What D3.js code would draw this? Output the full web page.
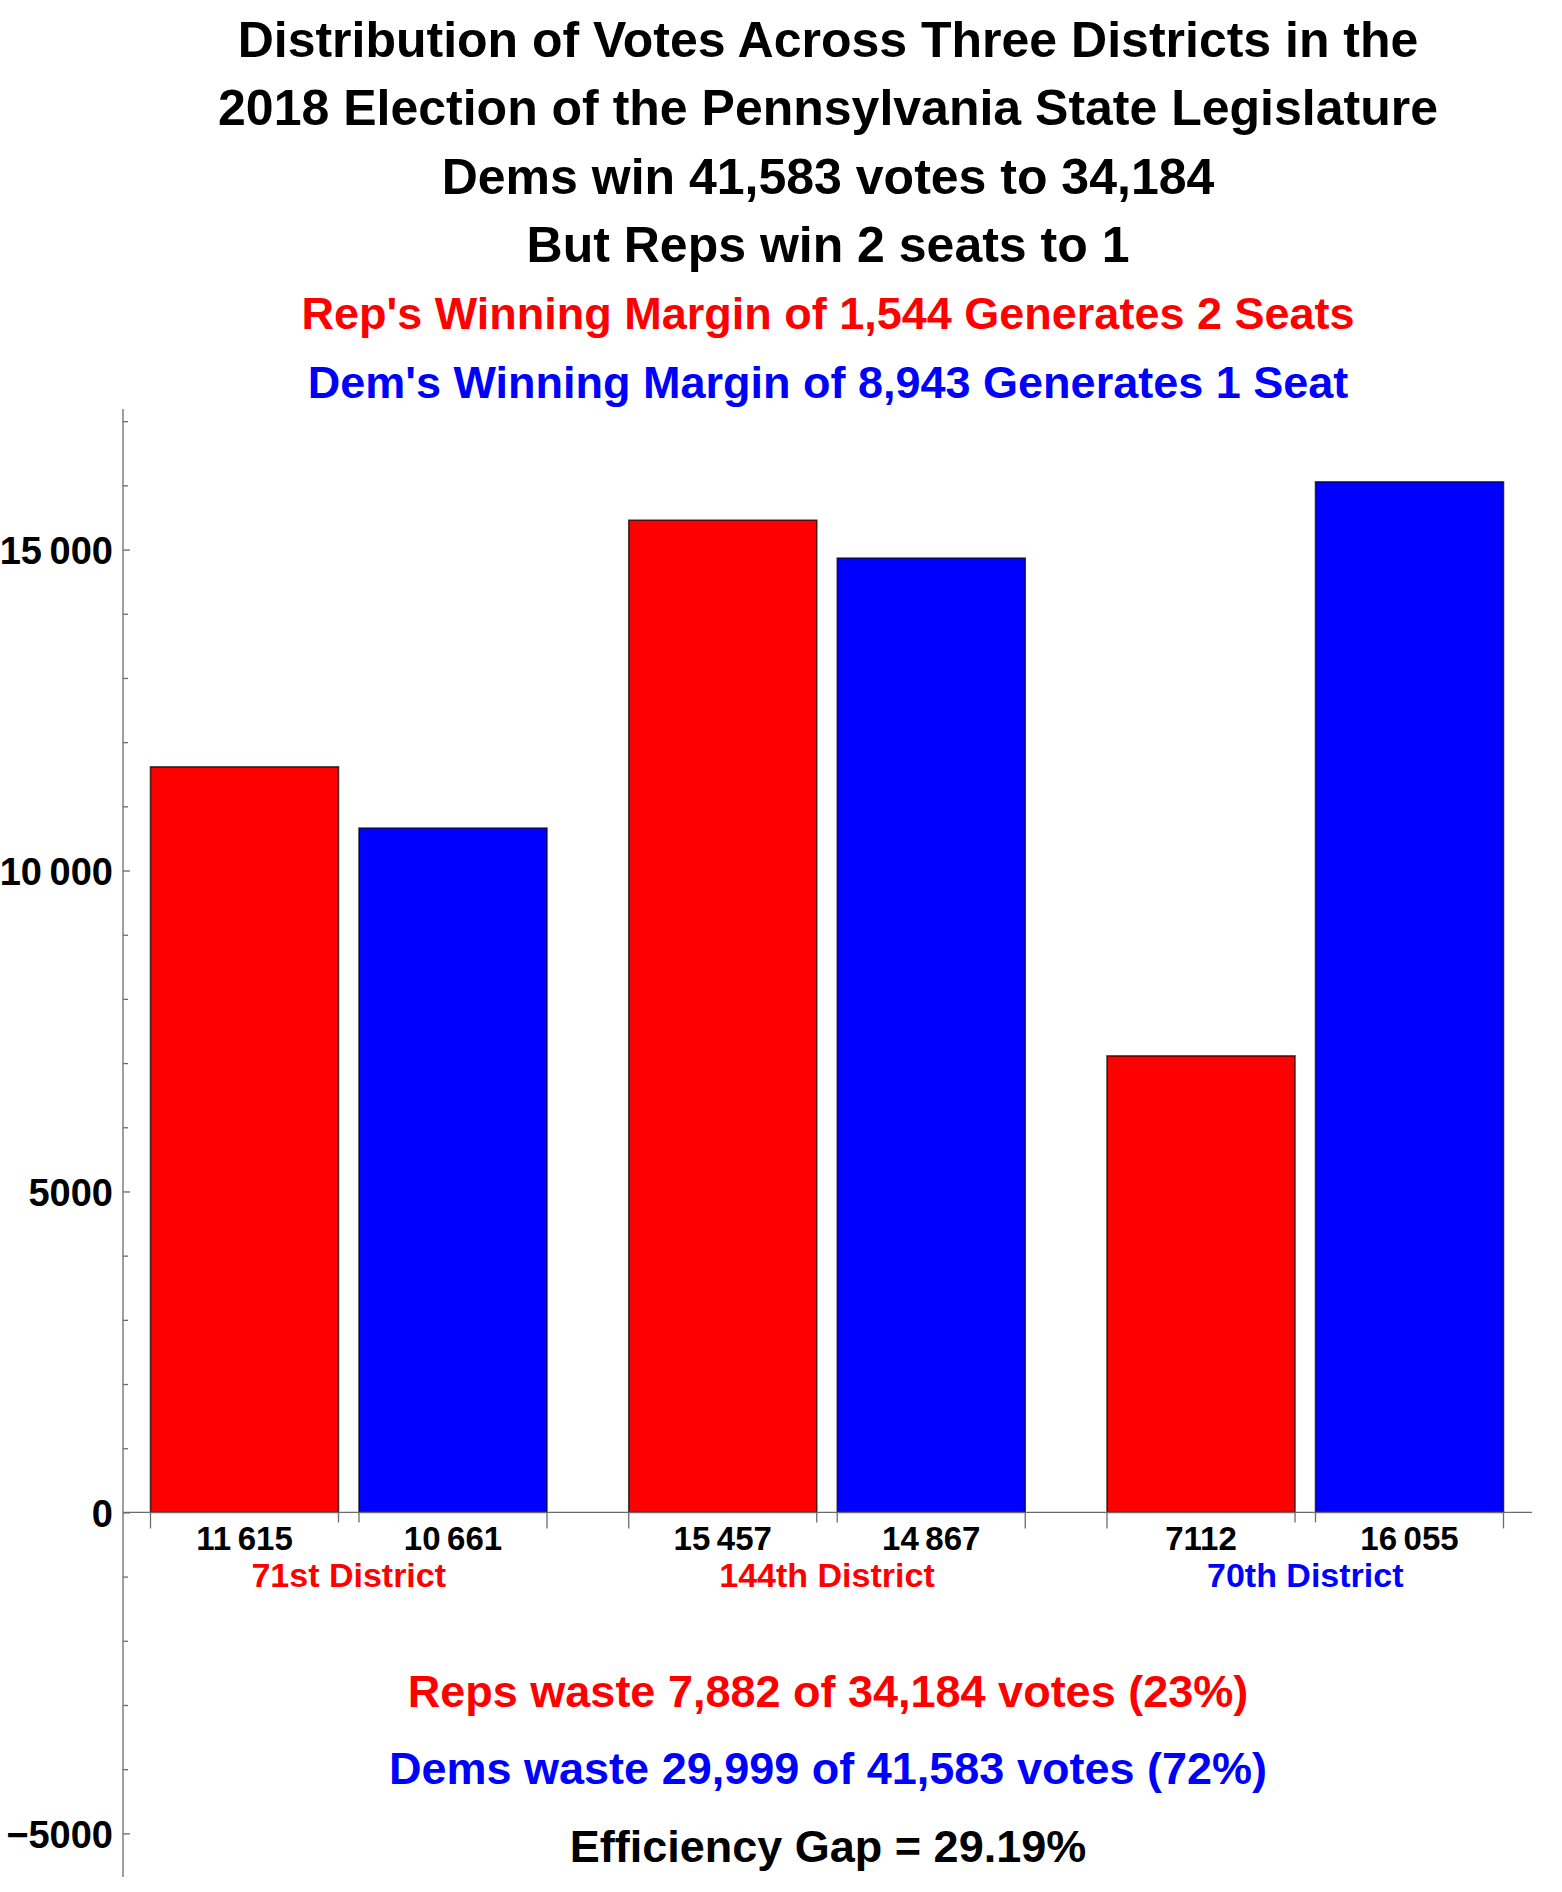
<!DOCTYPE html>
<html>
<head>
<meta charset="utf-8">
<script src="https://cdn.jsdelivr.net/npm/d3@7"></script>
<style>
  html, body { margin: 0; padding: 0; background: #fff; }
  svg { display: block; }
  text { font-family: "Liberation Sans", Arial, Helvetica, sans-serif; font-weight: bold; }
</style>
</head>
<body>
<svg id="chart" width="1562" height="1892"></svg>
<script>
// ---------- data ----------
const districts = ["71st District", "144th District", "70th District"];
const parties = ["Rep", "Dem"];
const repVotes = [11615, 15457, 7112];
const demVotes = [10661, 14867, 16055];
const winners = ["Rep", "Rep", "Dem"];
const yMajorTicks = [-5000, 0, 5000, 10000, 15000];
const yTickLabels = ["\u22125000", "0", "5000", "10\u2009000", "15\u2009000"];
const yMinorTicks = [-4000, -3000, -2000, -1000, 1000, 2000, 3000, 4000, 6000, 7000, 8000, 9000,
                     11000, 12000, 13000, 14000, 16000, 17000];
const titleLines = [
  "Distribution of Votes Across Three Districts in the",
  "2018 Election of the Pennsylvania State Legislature",
  "Dems win 41,583 votes to 34,184",
  "But Reps win 2 seats to 1"
];
const marginLines = [
  {party: "Rep", text: "Rep's Winning Margin of 1,544 Generates 2 Seats"},
  {party: "Dem", text: "Dem's Winning Margin of 8,943 Generates 1 Seat"}
];
const footerLines = [
  {party: "Rep", text: "Reps waste 7,882 of 34,184 votes (23%)"},
  {party: "Dem", text: "Dems waste 29,999 of 41,583 votes (72%)"},
  {party: "None", text: "Efficiency Gap = 29.19%"}
];

// ---------- styling ----------
const partyColor = {Rep: "#ff0000", Dem: "#0000ff", None: "#000000"};
const axisColor = "#6b6b6b";
const W = 1562, H = 1892;
const cx = 828;

const svg = d3.select("#chart");

const rows = districts.map((d, i) => ({
  district: d, winner: winners[i],
  values: [{party: "Rep", v: repVotes[i]}, {party: "Dem", v: demVotes[i]}]
}));

// ---------- scales ----------
const yMin = -5680, yMax = 17190;
const y = d3.scaleLinear().domain([yMin, yMax]).range([1877, 409]);

const x0 = d3.scaleBand().domain(districts).range([150.5, 1503.5])
  .paddingInner(0.171).paddingOuter(0);
const x1 = d3.scaleBand().domain(parties).range([0, x0.bandwidth()])
  .paddingInner(0.0983).paddingOuter(0);

const axisX = 123;

// ---------- y axis ----------
const gy = svg.append("g").attr("transform", `translate(${axisX},0)`);
gy.append("line").attr("x1", 0).attr("x2", 0)
  .attr("y1", y(yMax)).attr("y2", y(yMin))
  .attr("stroke", axisColor).attr("stroke-width", 1.3);

const yAxisMajor = d3.axisLeft(y).tickValues(yMajorTicks)
  .tickFormat((d, i) => yTickLabels[i])
  .tickSizeInner(-7).tickSizeOuter(0).tickPadding(10);
const gMajor = gy.append("g").call(yAxisMajor);
gMajor.select(".domain").remove();
gMajor.selectAll(".tick line").attr("stroke", axisColor).attr("stroke-width", 1.3);
gMajor.selectAll(".tick text")
  .attr("fill", "#000").attr("font-size", 38).attr("font-weight", "bold")
  .attr("font-family", '"Liberation Sans", Arial, sans-serif')
  .attr("dy", "0.36em");

const yAxisMinor = d3.axisLeft(y).tickValues(yMinorTicks).tickFormat("")
  .tickSizeInner(-5).tickSizeOuter(0);
const gMinor = gy.append("g").call(yAxisMinor);
gMinor.select(".domain").remove();
gMinor.selectAll(".tick line").attr("stroke", axisColor).attr("stroke-width", 1.3);

// ---------- bars ----------
const groups = svg.append("g").selectAll("g.grp").data(rows).join("g")
  .attr("class", "grp")
  .attr("transform", d => `translate(${x0(d.district)},0)`);

groups.selectAll("rect").data(d => d.values).join("rect")
  .attr("x", d => x1(d.party))
  .attr("width", x1.bandwidth())
  .attr("y", d => y(d.v))
  .attr("height", d => y(0) - y(d.v))
  .attr("fill", d => partyColor[d.party])
  .attr("stroke", "#000").attr("stroke-opacity", 0.7).attr("stroke-width", 1.6);

// ---------- x axis ----------
svg.append("line")
  .attr("x1", axisX).attr("x2", 1532)
  .attr("y1", y(0)).attr("y2", y(0))
  .attr("stroke", axisColor).attr("stroke-width", 1.3);

// ticks at bar edges (long at outer group edges, short at inner edges)
groups.each(function(d) {
  const g = d3.select(this);
  const edges = [
    {x: x1("Rep"), len: 16},
    {x: x1("Rep") + x1.bandwidth(), len: 10},
    {x: x1("Dem"), len: 10},
    {x: x1("Dem") + x1.bandwidth(), len: 16}
  ];
  g.selectAll("line.xt").data(edges).join("line").attr("class", "xt")
    .attr("x1", e => e.x).attr("x2", e => e.x)
    .attr("y1", y(0)).attr("y2", e => y(0) + e.len)
    .attr("stroke", axisColor).attr("stroke-width", 1.3);
});

const fmtVotes = v => v >= 10000
  ? Math.floor(v / 1000) + "\u2009" + String(v % 1000).padStart(3, "0")
  : String(v);

groups.selectAll("text.val").data(d => d.values).join("text").attr("class", "val")
  .attr("x", d => x1(d.party) + x1.bandwidth() / 2)
  .attr("y", y(0) + 38)
  .attr("text-anchor", "middle")
  .attr("font-size", 33)
  .attr("fill", "#000")
  .text(d => fmtVotes(d.v));

groups.append("text").attr("class", "dist")
  .attr("x", x0.bandwidth() / 2)
  .attr("y", y(0) + 75)
  .attr("text-anchor", "middle")
  .attr("font-size", 34)
  .attr("fill", d => partyColor[d.winner])
  .text(d => d.district);

// ---------- titles ----------
const titleBaselines = [56.7, 125, 193.5, 262];
svg.append("g").selectAll("text").data(titleLines).join("text")
  .attr("x", cx).attr("y", (d, i) => titleBaselines[i])
  .attr("text-anchor", "middle").attr("font-size", 50).attr("fill", "#000")
  .text(d => d);

const marginBaselines = [328.5, 397.5];
svg.append("g").selectAll("text").data(marginLines).join("text")
  .attr("x", cx).attr("y", (d, i) => marginBaselines[i])
  .attr("text-anchor", "middle").attr("font-size", 45)
  .attr("fill", d => partyColor[d.party])
  .text(d => d.text);

const footerBaselines = [1706.7, 1784, 1861.7];
svg.append("g").selectAll("text").data(footerLines).join("text")
  .attr("x", cx).attr("y", (d, i) => footerBaselines[i])
  .attr("text-anchor", "middle").attr("font-size", 45)
  .attr("fill", d => partyColor[d.party])
  .text(d => d.text);
</script>
</body>
</html>
